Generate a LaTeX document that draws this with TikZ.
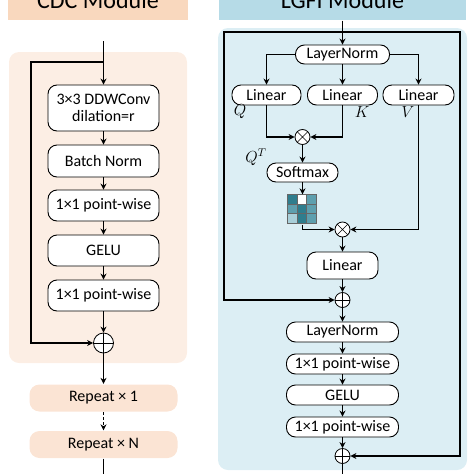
\documentclass[tikz,border=0pt]{standalone}
\usepackage{fix-cm}
\usepackage{fontspec}
\setmainfont{Carlito}
\usetikzlibrary{arrows.meta,calc}

\definecolor{cdcdark}{HTML}{F9D8BE}
\definecolor{cdclight}{HTML}{FCEEE4}
\definecolor{cdcrep}{HTML}{FBE4D4}
\definecolor{lgfidark}{HTML}{B6DBE7}
\definecolor{lgfilight}{HTML}{DCEEF4}
\definecolor{cellA}{HTML}{2F7D8D}
\definecolor{cellB}{HTML}{5E9FAE}
\definecolor{cellC}{HTML}{A9CFD9}

\tikzset{
  >={Stealth[length=6pt,width=6pt]},   % default arrow tip
  blk/.style={draw, fill=white, line width=0.9pt, rounded corners=9pt,
    align=center, font=\fontsize{16}{17}\selectfont, inner sep=1pt},
  rep/.style={fill=cdcrep, rounded corners=10pt, minimum width=148pt,
    minimum height=27pt, font=\fontsize{16}{17}\selectfont},
  ttl/.style={font=\fontsize{24}{26}\selectfont, minimum height=40pt},
  opadd/.style={circle, draw, fill=white, line width=0.8pt, inner sep=0pt,
    path picture={\draw[line width=0.6pt] (path picture bounding box.north) -- (path picture bounding box.south)
      (path picture bounding box.west) -- (path picture bounding box.east);}},
  opmul/.style={circle, draw, fill=white, line width=0.8pt, inner sep=0pt,
    path picture={\draw[line width=0.6pt] (path picture bounding box.north west) -- (path picture bounding box.south east)
      (path picture bounding box.north east) -- (path picture bounding box.south west);}},
  lbl/.style={font=\fontsize{16}{17}\selectfont}
}

\begin{document}
\begin{tikzpicture}[x=1pt, y=-1pt, line width=1.3pt]
	\useasboundingbox (0,0) rectangle (474,474);
	\clip (0,0) rectangle (474,474);

	% titles
	\node[ttl, fill=cdcdark, minimum width=180pt] (ttlL) at (98,0) {CDC Module};
	\node[ttl, fill=lgfidark, minimum width=247pt] (ttlR) at (342.5,0) {LGFI Module};

	% panels
	\fill[cdclight, rounded corners=10pt] (9,52) rectangle (187,363);
	\fill[lgfilight, rounded corners=10pt] (218,28) rectangle (467,470);

	%% CDC module
	\node[blk, minimum width=111pt, minimum height=46pt] (dconv) at (103.5,108) {3×3 DDWConv\\dilation=r};
	\node[blk, minimum width=111pt, minimum height=32pt] (bn) at (103.5,161) {Batch Norm};
	\node[blk, minimum width=111pt, minimum height=31pt] (pwa) at (103.5,205.5) {1×1 point-wise};
	\node[blk, minimum width=111pt, minimum height=31pt] (gelua) at (103.5,250.5) {GELU};
	\node[blk, minimum width=111pt, minimum height=31pt] (pwb) at (103.5,295.5) {1×1 point-wise};
	\node[opadd, minimum size=20pt] (addc) at (103.5,343) {};
	\node[rep] (rep1) at (103.5,398) {Repeat × 1};
	\node[rep] (repn) at (103.5,444.5) {Repeat × N};

	\coordinate (cin) at (103.5,41);
	\coordinate (cskip) at (103.5,62);
	\coordinate (cturn) at (31,343);
	\coordinate (cout) at (103.5,474);

	\draw[->] (cin) -- (dconv);
	\draw[->] (cskip) -| (cturn) -- (addc);
	\draw[->] (dconv) -- (bn);
	\draw[->] (bn) -- (pwa);
	\draw[->] (pwa) -- (gelua);
	\draw[->] (gelua) -- (pwb);
	\draw[->] (pwb) -- (addc);
	\draw[->] (addc) -- (rep1);
	\draw[->, dash pattern=on 3pt off 2pt] (rep1) -- (repn);
	\draw (repn) -- (cout);

	%% LGFI module
	\node[blk, minimum width=94pt, minimum height=19pt] (ln1) at (342.5,54.5) {LayerNorm};
	\node[blk, minimum width=69pt, minimum height=20pt] (lin1) at (266.5,95) {Linear};
	\node[blk, minimum width=70pt, minimum height=20pt] (lin2) at (342.5,95) {Linear};
	\node[blk, minimum width=71pt, minimum height=20pt] (lin3) at (418.5,95) {Linear};
	\node[opmul, minimum size=15pt] (mul1) at (302.5,137) {};
	\node[blk, minimum width=71pt, minimum height=19pt] (soft) at (302.5,172.5) {Softmax};
	\node[minimum size=29pt, inner sep=0pt] (attn) at (302.5,209.5) {};
	\node[opmul, minimum size=15pt] (mul2) at (342.5,229.5) {};
	\node[blk, minimum width=71pt, minimum height=27pt] (lin4) at (342.5,265.5) {Linear};
	\node[opadd, minimum size=15pt] (add1) at (342.5,300) {};
	\node[blk, minimum width=112pt, minimum height=20pt] (ln2) at (342.5,332) {LayerNorm};
	\node[blk, minimum width=112pt, minimum height=20pt] (pwc) at (342.5,364) {1×1 point-wise};
	\node[blk, minimum width=112pt, minimum height=20pt] (geluc) at (342.5,395) {GELU};
	\node[blk, minimum width=112pt, minimum height=20pt] (pwd) at (342.5,427) {1×1 point-wise};
	\node[opadd, minimum size=15pt] (add2) at (342.5,456) {};

	% attention map
	\foreach \c [count=\i from 0] in {cellA,white,cellB,cellB,cellA,cellB,cellC,cellA,cellB}{
		\pgfmathtruncatemacro{\cx}{mod(\i,3)}
		\pgfmathtruncatemacro{\cy}{div(\i,3)}
		\filldraw[fill=\c, draw=black!60, line width=0.5pt] ($(attn.north west)+(\cx*9.67,\cy*9.67)$) rectangle ++(9.67,9.67);
	}

	% labels
	\node[lbl] (lq) at (240,112) {$Q$};
	\node[lbl] (lk) at (362,112) {$K$};
	\node[lbl] (lv) at (408,112) {$V$};
	\node[lbl] (lqt) at (256,157) {$Q^{T}$};

	\coordinate (rtop) at (342.5,32);
	\coordinate (rleft) at (224,300);
	\coordinate (rright) at (460,456);
	\coordinate (rout) at (342.5,474);

	\draw[->] (ttlR) -- (ln1);
	\draw[->] (rtop) -| (rleft) -- (add1);
	\draw[->] (rtop) -| (rright) -- (add2);
	\draw[->] (ln1.west) -| (lin1);
	\draw[->] (ln1) -- (lin2);
	\draw[->] (ln1.east) -| (lin3);
	\draw[->] (lin1) |- (mul1);
	\draw[->] (lin2) |- (mul1);
	\draw[->] (mul1) -- (soft);
	\draw[->] (soft) -- (attn);
	\draw[->] (attn) |- (mul2);
	\draw[->] (lin3) |- (mul2);
	\draw[->] (mul2) -- (lin4);
	\draw[->] (lin4) -- (add1);
	\draw[->] (add1) -- (ln2);
	\draw[->] (ln2) -- (pwc);
	\draw[->] (pwc) -- (geluc);
	\draw[->] (geluc) -- (pwd);
	\draw[->] (pwd) -- (add2);
	\draw (add2) -- (rout);

\end{tikzpicture}
\end{document}
